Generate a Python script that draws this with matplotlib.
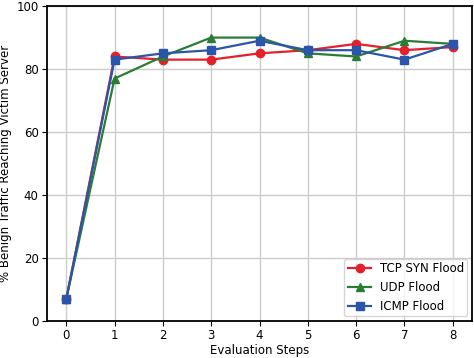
import matplotlib
matplotlib.use("Agg")
import matplotlib.pyplot as plt

steps = [0, 1, 2, 3, 4, 5, 6, 7, 8]
tcp_syn = [7, 84, 83, 83, 85, 86, 88, 86, 87]
udp = [7, 77, 84, 90, 90, 85, 84, 89, 88]
icmp = [7, 83, 85, 86, 89, 86, 86, 83, 88]

plt.rcParams['font.size'] = 8.5

fig, ax = plt.subplots(figsize=(4.74, 3.58), dpi=100)
ax.plot(steps, tcp_syn, color='#e4202a', marker='o', markersize=6, lw=1.6, label='TCP SYN Flood')
ax.plot(steps, udp, color='#2a7d33', marker='^', markersize=6, lw=1.6, label='UDP Flood')
ax.plot(steps, icmp, color='#2a55a8', marker='s', markersize=6, lw=1.6, label='ICMP Flood')

ax.set_ylim(0, 100)
ax.set_xticks(steps)
ax.tick_params(pad=2.5)
ax.grid(True, color='#cccccc', lw=1)
ax.set_xlabel('Evaluation Steps', labelpad=1)
ax.set_ylabel('% Benign Traffic Reaching Victim Server', labelpad=3)
for s in ax.spines.values():
    s.set_linewidth(1.3)
ax.legend(loc='lower right', borderaxespad=0.4, borderpad=0.3, handletextpad=0.7)

fig.subplots_adjust(left=0.099, right=0.996, top=0.983, bottom=0.103)
fig.savefig('out.png')
